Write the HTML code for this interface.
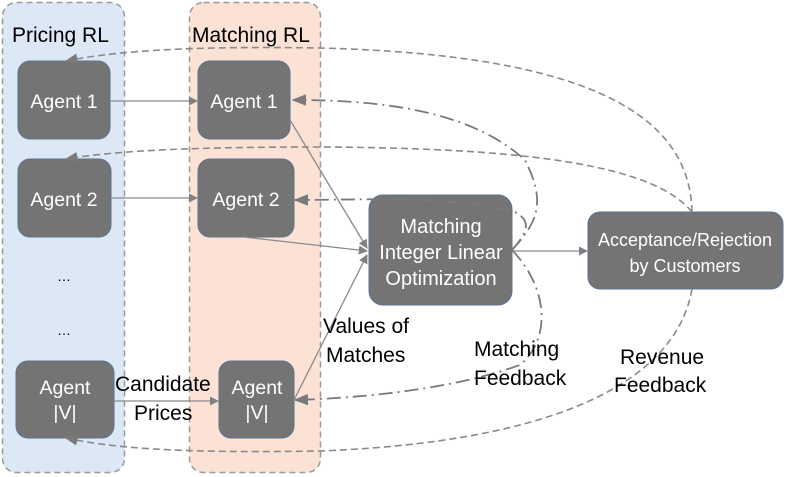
<!DOCTYPE html>
<html><head><meta charset="utf-8"><style>
html,body{margin:0;padding:0;background:#fff;}
svg{display:block;font-family:"Liberation Sans",sans-serif;}
</style></head><body>
<svg width="801" height="477" viewBox="0 0 801 477" xmlns="http://www.w3.org/2000/svg">
<defs>
<marker id="a" viewBox="0 0 10 10" refX="9" refY="5" markerWidth="7" markerHeight="7" orient="auto"><path d="M0,0 L10,5 L0,10 z" fill="#808080"/></marker>
<marker id="b" viewBox="0 0 10 10" refX="9" refY="5" markerWidth="8" markerHeight="8" orient="auto"><path d="M0,1 L10,5 L0,9 z" fill="#7a7a7a"/></marker>
</defs>
<rect x="2.5" y="2.5" width="122" height="470" rx="14" fill="#dde8f6" stroke="#9a9a9a" stroke-width="1.5" stroke-dasharray="6,4"/>
<rect x="189.5" y="2.5" width="131" height="470" rx="14" fill="#fbe2d4" stroke="#9a9a9a" stroke-width="1.5" stroke-dasharray="6,4"/>
<text x="12" y="42" font-size="21" fill="#000">Pricing RL</text>
<text x="192" y="42" font-size="21" fill="#000">Matching RL</text>

<g fill="#747474" stroke="#5b7391" stroke-width="1">
<rect x="18" y="61" width="92" height="78" rx="12"/>
<rect x="18" y="159" width="93" height="78" rx="12"/>
<rect x="16" y="361" width="98" height="77" rx="12"/>
<rect x="198" y="61" width="92" height="78" rx="12"/>
<rect x="198" y="159" width="96" height="78" rx="12"/>
<rect x="219" y="361" width="75" height="77" rx="12"/>
<rect x="369" y="195" width="143" height="110" rx="14"/>
<rect x="588" y="212" width="195" height="77" rx="12"/>
</g>
<g fill="#fff" font-size="19.5" text-anchor="middle">
<text x="64" y="108">Agent 1</text>
<text x="64" y="206">Agent 2</text>
<text x="65" y="394">Agent</text><text x="65" y="419">|V|</text>
<text x="244" y="108">Agent 1</text>
<text x="246" y="206">Agent 2</text>
<text x="257" y="394">Agent</text><text x="257" y="419">|V|</text>
</g>
<g fill="#fff" font-size="20" text-anchor="middle">
<text x="441" y="233">Matching</text>
<text x="441" y="259">Integer Linear</text>
<text x="441" y="285">Optimization</text>
</g>
<g fill="#fff" font-size="18" text-anchor="middle">
<text x="685" y="246">Acceptance/Rejection</text>
<text x="685" y="272">by Customers</text>
</g>
<text x="64" y="281" font-size="14" text-anchor="middle">…</text>
<text x="64" y="335" font-size="14" text-anchor="middle">…</text>

<g stroke="#8a8a8a" stroke-width="1.3" fill="none" marker-end="url(#a)">
<line x1="110" y1="101" x2="197" y2="101"/>
<line x1="111" y1="198" x2="197" y2="198"/>
<line x1="114" y1="401" x2="218" y2="401"/>
<line x1="290" y1="120" x2="367" y2="248"/>
<line x1="244" y1="237" x2="367" y2="251"/>
<line x1="294" y1="400" x2="367" y2="255"/>
<line x1="512" y1="251" x2="587" y2="251"/>
</g>

<g stroke="#8a8a8a" stroke-width="1.6" fill="none" stroke-dasharray="7,4" marker-end="url(#b)">
<path d="M692,212 C690,120 600,55 320,48 C200,46 120,50 66,61"/>
<path d="M692,212 C650,160 500,148 320,147 C200,147 120,150 66,159"/>
<path d="M692,289 C680,360 600,440 320,451 C200,453 120,450 66,438"/>
</g>

<g stroke="#7a7a7a" stroke-width="1.8" fill="none" stroke-dasharray="14,5,2,5" marker-end="url(#b)">
<path d="M512,250 C540,220 545,200 525,160 C470,110 380,100 293,100"/>
<path d="M512,250 C530,230 530,220 515,212 C450,195 360,200 295,200"/>
<path d="M512,250 C550,290 550,340 520,365 C450,390 360,398 295,400"/>
</g>

<g font-size="21" fill="#000">
<text x="323" y="333">Values of</text>
<text x="326" y="362">Matches</text>
<text x="474" y="356">Matching</text>
<text x="474" y="385">Feedback</text>
<text x="620" y="364">Revenue</text>
<text x="614" y="392">Feedback</text>
<text x="115" y="391">Candidate</text>
<text x="134" y="420">Prices</text>
</g>
</svg>
</body></html>
